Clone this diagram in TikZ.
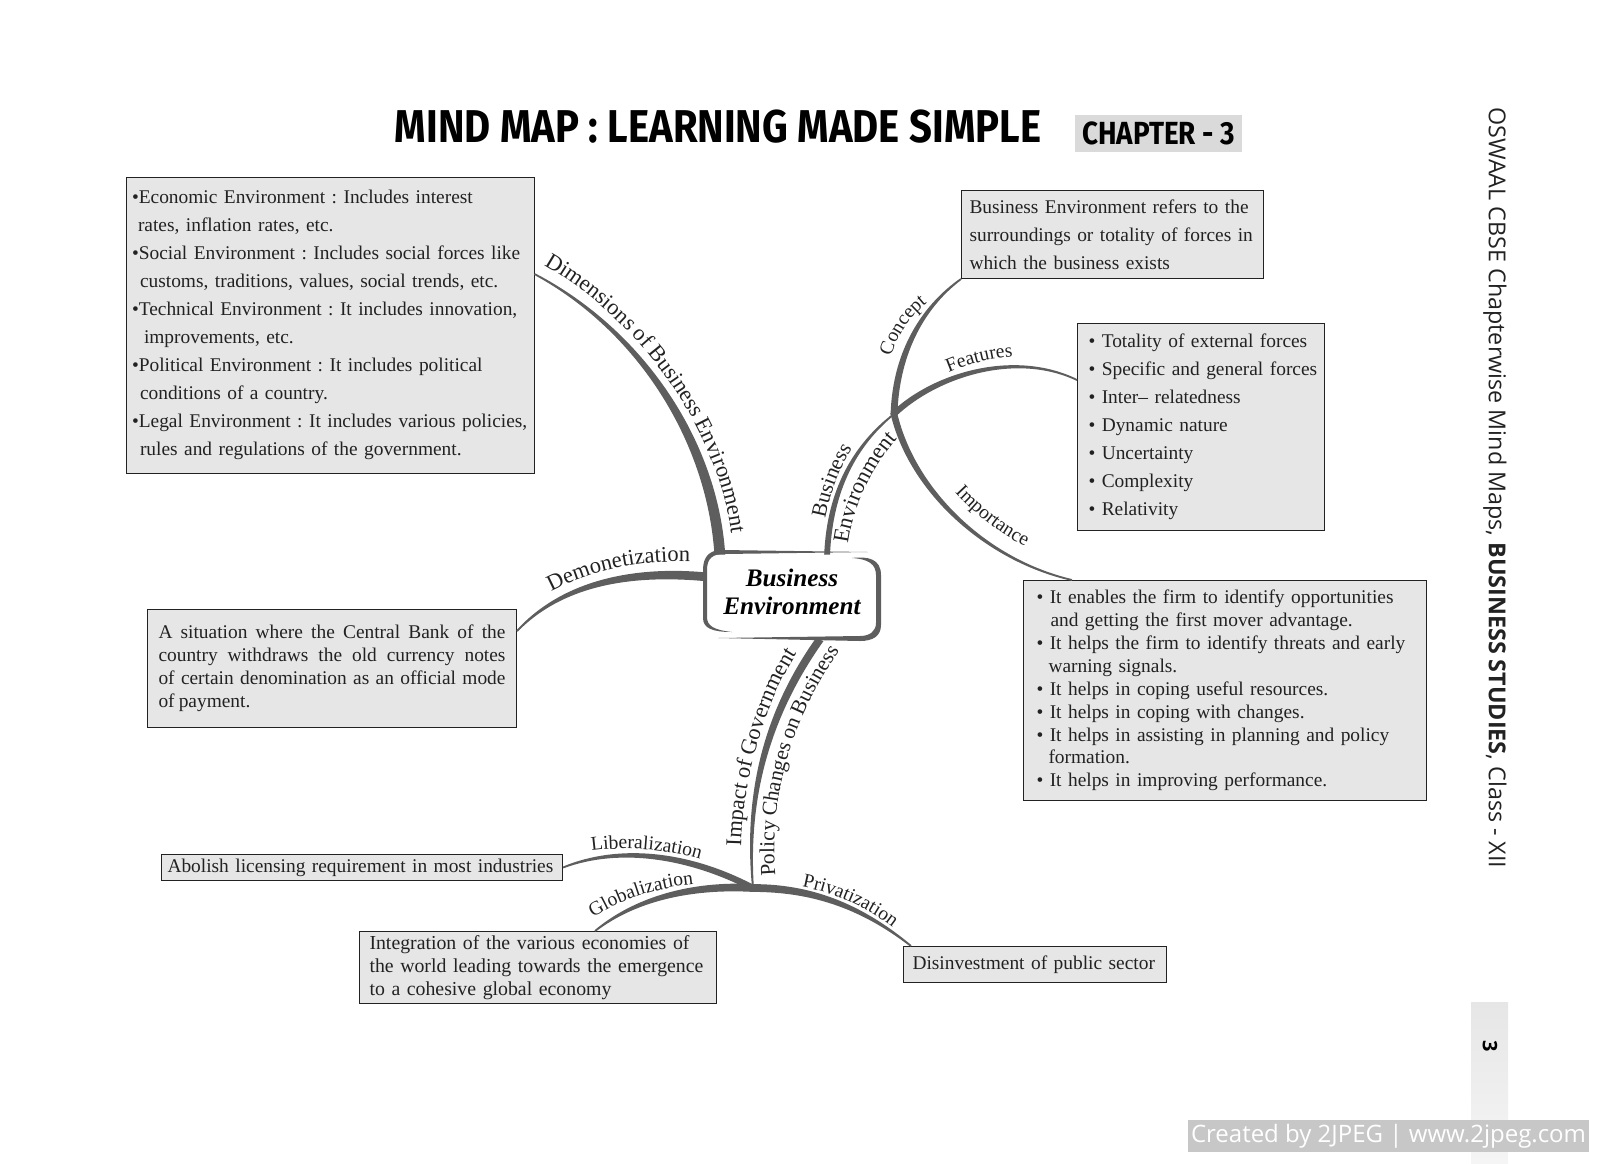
\documentclass[tikz,border=0pt]{standalone}
\usepackage{fontspec}
\setmainfont[WordSpace=0.85]{Liberation Serif}
\newfontfamily\sidefont{Open Sans}
\newfontfamily\titlefont[FakeStretch=0.87]{Fira Sans}
\usetikzlibrary{calc,decorations.text}
\definecolor{branchgrey}{HTML}{5E5E5E}
\definecolor{boxgrey}{HTML}{E6E6E6}
\definecolor{inkgrey}{HTML}{222222}
\frenchspacing
\newcommand{\loosefont}{\fontsize{9.7}{14}\selectfont}
\newcommand{\tightfont}{\fontsize{9.7}{11.45}\selectfont}
\newcommand{\labelfont}{\fontsize{10.7}{12}\selectfont\color{inkgrey}}
\newcommand{\biglabelfont}{\fontsize{11.25}{12}\selectfont\color{inkgrey}}
\newcommand{\smalllabelfont}{\fontsize{9.8}{12}\selectfont\color{inkgrey}}
% tapered branch : from, control, control, to, half width at the start
\newcommand{\branch}[5]{\filldraw[branchline] ($(#1)+(#5)$) .. controls ($(#2)+(#5)$) and ($(#3)+0.5*(#5)$) .. (#4) .. controls ($(#3)-0.5*(#5)$) and ($(#2)-(#5)$) .. ($(#1)-(#5)$) -- cycle;}
\newcommand{\bendlabel}[3][\labelfont]{\path[decorate,decoration={text along path,text align=center,text={|#1|#3}}] #2;}
\tikzset{
        infobox/.style n args={3}{draw=inkgrey,fill=boxgrey,line width=0.5pt,anchor=north west,align=left,text=inkgrey,
                text width={#1pt-2*#2pt},inner xsep=#2pt,inner ysep=0pt,minimum height=#3pt},
        branchline/.style={draw=branchgrey,fill=branchgrey,line width=0.9pt},
}
\begin{document}
\begin{tikzpicture}[x=0.5pt,y=-0.5pt]
        \useasboundingbox (0,0) rectangle (1600,1163);
        % Title
        \node[font=\titlefont\bfseries\fontsize{23}{26}\selectfont,text=black] (maptitle) at (718,127) {MIND MAP : LEARNING MADE SIMPLE};
        \node[font=\titlefont\bfseries\fontsize{16}{18}\selectfont,fill=boxgrey!95!black,minimum width=83.5pt,minimum height=18.5pt,inner sep=0pt] (chaptertag) at (1158.5,133.5) {CHAPTER - 3};
        % Margin
        \node[rotate=-90,font=\sidefont\fontsize{11.65}{13}\selectfont,text=inkgrey] (sidetext) at (1495,488) {OSWAAL CBSE Chapterwise Mind Maps, \textbf{BUSINESS STUDIES}, Class - XII};
        \shade[top color=boxgrey,bottom color=boxgrey!40] (1471,1002) rectangle (1508,1163);
        \node[rotate=-90,font=\sidefont\bfseries\fontsize{10}{12}\selectfont] (pagenum) at (1490,1046) {3};
        \node[fill=black!22,text=white,font=\sidefont\fontsize{12}{14}\selectfont,minimum width=200.5pt,minimum height=16pt,inner sep=0pt] (stamp) at (1388.5,1136) {Created by 2JPEG | www.2jpeg.com};
        % Boxes
        \node[infobox={204}{3}{148},font=\loosefont] (dimbox) at (125.5,176.5) {
                \textbullet Economic Environment : Includes interest\\
                \hspace*{3pt}rates, inflation rates, etc.\\
                \textbullet Social Environment : Includes social forces like\\
                \hspace*{4pt}customs, traditions, values, social trends, etc.\\
                \textbullet Technical Environment : It includes innovation,\\
                \hspace*{6pt}improvements, etc.\\
                \textbullet Political Environment : It includes political\\
                \hspace*{4pt}conditions of a country.\\
                \textbullet Legal Environment : It includes various policies,\\
                \hspace*{4pt}rules and regulations of the government.};
        \node[infobox={151}{4}{44},font=\loosefont] (conceptbox) at (961,190) {Business Environment refers to the\\surroundings or totality of forces in\\which the business exists};
        \node[infobox={123.5}{2.5}{103.5},font=\loosefont] (featbox) at (1077,323) {
                \hspace*{3pt}\textbullet\ Totality of external forces\\
                \hspace*{3pt}\textbullet\ Specific and general forces\\
                \hspace*{3pt}\textbullet\ Inter-- relatedness\\
                \hspace*{3pt}\textbullet\ Dynamic nature\\
                \hspace*{3pt}\textbullet\ Uncertainty\\
                \hspace*{3pt}\textbullet\ Complexity\\
                \hspace*{3pt}\textbullet\ Relativity};
        \node[infobox={201.5}{6.5}{110},font=\tightfont] (impbox) at (1023,580) {
                \textbullet\ It enables the firm to identify opportunities\\
                \hspace*{7pt}and getting the first mover advantage.\\
                \textbullet\ It helps the firm to identify threats and early\\
                \hspace*{6pt}warning signals.\\
                \textbullet\ It helps in coping useful resources.\\
                \textbullet\ It helps in coping with changes.\\
                \textbullet\ It helps in assisting in planning and policy\\
                \hspace*{6pt}formation.\\
                \textbullet\ It helps in improving performance.};
        \node[infobox={184.5}{5.5}{59},font=\tightfont,align=justify] (demobox) at (147,609) {A situation where the Central Bank of the\linebreak country withdraws the old currency notes\linebreak of certain denomination as an official mode\linebreak of payment.};
        \node[infobox={200.5}{3}{13},font=\tightfont] (libbox) at (161,854) {Abolish licensing requirement in most industries};
        \node[infobox={178.5}{5}{36},font=\fontsize{9.9}{11.45}\selectfont] (globbox) at (359,931) {Integration of the various economies of\\the world leading towards the emergence\\to a cohesive global economy};
        \node[infobox={131.5}{4.5}{18},font=\tightfont] (privbox) at (903,946) {Disinvestment of public sector};
        % Centre
        \node[minimum width=88pt,minimum height=43pt,inner sep=0pt] (centre) at (792,597) {};
        \node[align=center,inner sep=0pt,font=\bfseries\itshape\fontsize{12.6}{14}\selectfont] (centretext) at (792,592) {Business\\Environment};
        \fill[branchgrey] (868,552) -- (722,550) .. controls (710,550) and (703,556) .. (703,570) -- (703,618) .. controls (703,628) and (712,632) .. (732,632) .. controls (714,630) and (707,626) .. (707,617) -- (707,570) .. controls (707,558) and (713,554) .. (724,554) -- cycle;
        \fill[branchgrey] (852,558) .. controls (868,556) and (881,559) .. (881,575) -- (881,625) .. controls (881,636) and (873,641) .. (860,641) -- (718,638) -- (860,636) .. controls (870,636) and (876,631) .. (876,623) -- (876,575) .. controls (876,564) and (868,559) .. (852,558) -- cycle;
        % Hubs
        \coordinate (hubF) at (894,414);
        \coordinate (hubP) at (753,888);
        % Branches
        \branch{centre.149}{712,440}{640,330}{dimbox.14}{4.5,0}
        \branch{centre.167}{650,572}{570,575}{demobox.east|-516,631}{0,3.5}
        \branch{centre.51}{830,490}{855,445}{hubF}{2,0}
        \branch{hubF}{896,350}{925,305}{conceptbox.south west}{2.5,0}
        \branch{hubF}{935,375}{1015,350}{featbox.west|-1077,380}{1.5,1.5}
        \branch{hubF}{912,490}{985,560}{impbox.north west-|1072,580}{2.5,0}
        \branch{centre.-58}{770,710}{745,790}{hubP}{3,1}
        \branch{hubP}{690,855}{620,845}{libbox.east}{0,2.5}
        \branch{hubP}{700,885}{640,895}{globbox.north west-|595,931}{0,3}
        \branch{hubP}{810,888}{860,905}{privbox.north west-|911,946}{0,3}
        % Labels on the branches
        \bendlabel[\biglabelfont]{(538,262) .. controls (648,322) and (722,440) .. (732,540)}{Dimensions of Business Environment}
        \bendlabel[\biglabelfont]{(547,594) .. controls (590,570) and (640,560) .. (695,562)}{Demonetization}
        \bendlabel{(825,520) .. controls (830,495) and (838,470) .. (853,447)}{Business}
        \bendlabel[\biglabelfont]{(848,545) .. controls (852,510) and (870,470) .. (898,438)}{Environment}
        \bendlabel[\smalllabelfont]{(890,361) .. controls (895,338) and (910,315) .. (931,300)}{Concept}
        \bendlabel[\smalllabelfont]{(945,374) .. controls (965,365) and (990,358) .. (1017,356)}{Features}
        \bendlabel[\smalllabelfont]{(950,487) .. controls (972,512) and (1002,537) .. (1032,549)}{Importance}
        \bendlabel[\biglabelfont]{(741,848) .. controls (742,790) and (760,710) .. (798,652)}{Impact of Government}
        \bendlabel{(776,882) .. controls (768,800) and (790,720) .. (843,645)}{Policy Changes on Business}
        \bendlabel[\smalllabelfont]{(590,851) .. controls (625,846) and (665,849) .. (702,860)}{Liberalization}
        \bendlabel[\smalllabelfont]{(592,918) .. controls (620,900) and (655,888) .. (695,884)}{Globalization}
        \bendlabel[\smalllabelfont]{(798,886) .. controls (833,892) and (868,907) .. (896,930)}{Privatization}
\end{tikzpicture}
\end{document}
